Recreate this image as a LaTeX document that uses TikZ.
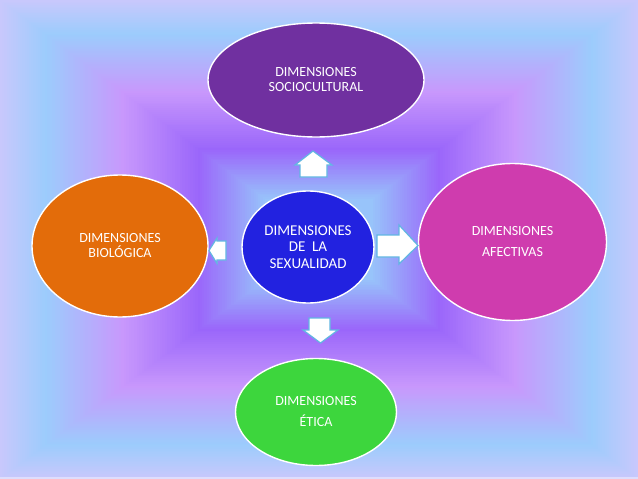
\documentclass[tikz,border=0pt]{standalone}
\usepackage{fontspec}
\setmainfont{Carlito}
\usetikzlibrary{shapes.geometric}
\definecolor{bgA}{HTML}{C8C8FC}
\definecolor{bgB}{HTML}{9CCCFC}
\definecolor{bgC}{HTML}{C898FC}
\definecolor{bgD}{HTML}{9A66FA}
\definecolor{bgE}{HTML}{98C4FA}
\definecolor{bgF}{HTML}{98C8FA}
\definecolor{socioc}{HTML}{7030A0}
\definecolor{centerc}{HTML}{2222E0}
\definecolor{bioc}{HTML}{E36C0A}
\definecolor{afecc}{HTML}{CF3CAE}
\definecolor{eticac}{HTML}{3DD63D}
\definecolor{arrowc}{HTML}{62B6E2}
\newcommand\bgseg[5]{%
  \foreach \k in {0,...,#5}{%
    \pgfmathsetmacro\bgt{#1-(#1-#2)*\k/#5}%
    \pgfmathtruncatemacro\bgp{100*\k/#5}%
    \colorlet{bgtmp}{#4!\bgp!#3}%
    \fill[bgtmp] ({319-\bgt*319},{239.5-\bgt*239.5}) rectangle ({319+\bgt*319},{239.5+\bgt*239.5});
  }}
\begin{document}
\begin{tikzpicture}[x=1pt,y=-1pt,
  bubble/.style={ellipse, draw=white, line width=1.4pt, inner sep=0pt,
     text=white, align=center},
  blockarrow/.style={fill=white, draw=arrowc, line width=1.2pt, line join=miter}]
\useasboundingbox (0,0) rectangle (638,479);
% background rectangular gradient
\bgseg{1}{0.86}{bgA}{bgB}{20}
\bgseg{0.86}{0.62}{bgB}{bgC}{30}
\bgseg{0.62}{0.38}{bgC}{bgD}{30}
\bgseg{0.38}{0.17}{bgD}{bgE}{30}
\bgseg{0.17}{0}{bgE}{bgF}{10}
\fill[bgA!60!white] (0,477) rectangle (638,479);
% nodes
\node[bubble, fill=socioc, minimum width=216pt, minimum height=114pt,
  font=\fontsize{14}{15}\selectfont] (socio) at (316,80)
  {DIMENSIONES\\SOCIOCULTURAL};
\node[bubble, fill=centerc, minimum width=132pt, minimum height=112pt,
  font=\fontsize{15}{16.5}\selectfont] (center) at (308,247)
  {DIMENSIONES\\DE~~LA\\SEXUALIDAD};
\node[bubble, fill=bioc, minimum width=176pt, minimum height=142pt,
  font=\fontsize{14}{15}\selectfont] (bio) at (120,246)
  {DIMENSIONES\\BIOLÓGICA};
\node[bubble, fill=afecc, minimum width=188pt, minimum height=157pt,
  font=\fontsize{14}{21}\selectfont] (afec) at (512.5,242)
  {DIMENSIONES\\AFECTIVAS};
\node[bubble, fill=eticac, minimum width=161pt, minimum height=107pt,
  font=\fontsize{14}{21}\selectfont] (etica) at (316,412)
  {DIMENSIONES\\ÉTICA};
% block arrows
\draw[blockarrow] (313,151) -- (332,165) -- (327,165) -- (327,177) -- (300,177)
  -- (300,165) -- (295,165) -- cycle;
\draw[blockarrow] (209,250.5) -- (217,238) -- (217,241) -- (226,241) -- (226,260)
  -- (217,260) -- (217,263.5) -- cycle;
\draw[blockarrow] (377,235) -- (399,235) -- (399,225) -- (418,245.5) -- (399,264)
  -- (399,257) -- (377,257) -- cycle;
\draw[blockarrow] (309,318) -- (330,318) -- (330,330) -- (338,330) -- (320.5,343)
  -- (303,330) -- (309,330) -- cycle;
\end{tikzpicture}
\end{document}
